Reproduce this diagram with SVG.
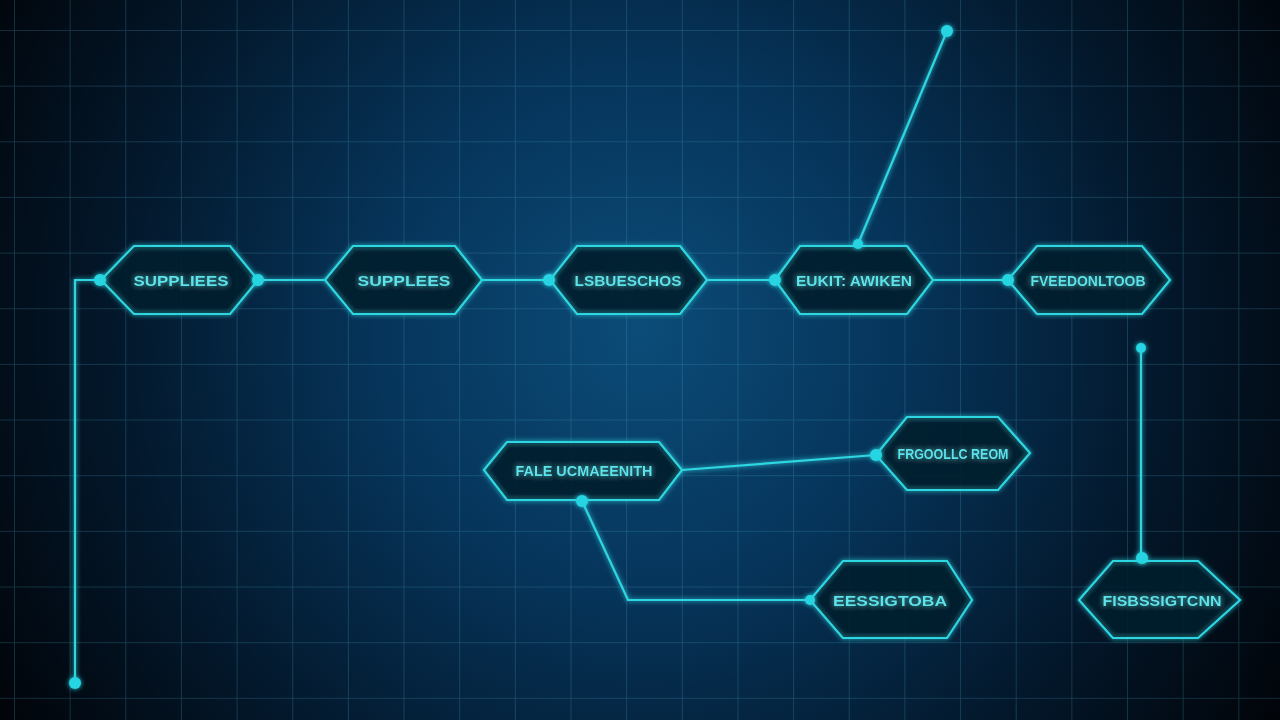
<svg xmlns="http://www.w3.org/2000/svg" width="1280" height="720" viewBox="0 0 1280 720">
  <defs>
    <radialGradient id="bg" cx="640" cy="330" r="760" gradientUnits="userSpaceOnUse">
      <stop offset="0" stop-color="#0b4c78"/>
      <stop offset="0.35" stop-color="#06345a"/>
      <stop offset="0.7" stop-color="#03172a"/>
      <stop offset="1" stop-color="#010307"/>
    </radialGradient>
    <pattern id="grid" x="14" y="30" width="55.65" height="55.65" patternUnits="userSpaceOnUse">
      <path d="M0 0 V55.65 M0 0 H55.65" fill="none" stroke="#4aa6c8" stroke-opacity="0.3" stroke-width="1.6"/>
    </pattern>
    <filter id="glow" x="-20%" y="-20%" width="140%" height="140%">
      <feGaussianBlur stdDeviation="2.5" result="b"/>
      <feMerge><feMergeNode in="b"/><feMergeNode in="SourceGraphic"/></feMerge>
    </filter>
    <style>
      .hex { fill: #041c2e; fill-opacity: 0.7; stroke: #2fd6e2; stroke-width: 2.2; }
      .lbl { fill: #5fe3ea; font-family: "Liberation Sans", Arial, sans-serif; font-size: 15px; font-weight: bold; text-anchor: middle; dominant-baseline: central; }
      .wire { fill: none; stroke: #2fd6e2; stroke-width: 2.2; }
      .dot { fill: #25d4e2; }
    </style>
  </defs>
  <rect width="1280" height="720" fill="url(#bg)"/>
  <rect width="1280" height="720" fill="url(#grid)"/>

  <g id="n1" filter="url(#glow)">
    <polygon class="hex" points="101,280 134,246 230,246 258,280 230,314 134,314"/>
    <text class="lbl" x="181" y="280" textLength="95" lengthAdjust="spacingAndGlyphs">SUPPLIEES</text>
  </g>
  <g id="n2" filter="url(#glow)">
    <polygon class="hex" points="325,280 353,246 455,246 482,280 455,314 353,314"/>
    <text class="lbl" x="404" y="280" textLength="93" lengthAdjust="spacingAndGlyphs">SUPPLEES</text>
  </g>
  <g id="n3" filter="url(#glow)">
    <polygon class="hex" points="550,280 577,246 680,246 707,280 680,314 577,314"/>
    <text class="lbl" x="628" y="280" textLength="107" lengthAdjust="spacingAndGlyphs">LSBUESCHOS</text>
  </g>
  <g id="n4" filter="url(#glow)">
    <polygon class="hex" points="775,280 800,246 907,246 933,280 907,314 800,314"/>
    <text class="lbl" x="854" y="280" textLength="116" lengthAdjust="spacingAndGlyphs">EUKIT: AWIKEN</text>
  </g>
  <g id="n5" filter="url(#glow)">
    <polygon class="hex" points="1008,280 1037,246 1142,246 1170,280 1142,314 1037,314"/>
    <text class="lbl" x="1088" y="280" textLength="115" lengthAdjust="spacingAndGlyphs">FVEEDONLTOOB</text>
  </g>
  <g id="n6" filter="url(#glow)">
    <polygon class="hex" points="484,470 507,442 659,442 682,470 659,500 507,500"/>
    <text class="lbl" x="584" y="470" textLength="137" lengthAdjust="spacingAndGlyphs">FALE UCMAEENITH</text>
  </g>
  <g id="n7" filter="url(#glow)">
    <polygon class="hex" points="876,455 907,417 998,417 1030,453 998,490 907,490"/>
    <text class="lbl" x="953" y="453" textLength="111" lengthAdjust="spacingAndGlyphs">FRGOOLLC REOM</text>
  </g>
  <g id="n8" filter="url(#glow)">
    <polygon class="hex" points="810,600 843,561 947,561 972,600 947,638 843,638"/>
    <text class="lbl" x="890" y="600" textLength="114" lengthAdjust="spacingAndGlyphs">EESSIGTOBA</text>
  </g>
  <g id="n9" filter="url(#glow)">
    <polygon class="hex" points="1079,600 1113,561 1198,561 1240,600 1198,638 1113,638"/>
    <text class="lbl" x="1162" y="600" textLength="119" lengthAdjust="spacingAndGlyphs">FISBSSIGTCNN</text>
  </g>

  <g id="connectors" filter="url(#glow)">
    <polyline class="wire" points="75,683 75,280 100,280"/>
    <line class="wire" x1="258" y1="280" x2="325" y2="280"/>
    <line class="wire" x1="482" y1="280" x2="549" y2="280"/>
    <line class="wire" x1="707" y1="280" x2="775" y2="280"/>
    <line class="wire" x1="858" y1="244" x2="947" y2="31"/>
    <line class="wire" x1="933" y1="280" x2="1008" y2="280"/>
    <line class="wire" x1="1141" y1="348" x2="1141" y2="558"/>
    <line class="wire" x1="682" y1="470" x2="876" y2="455"/>
    <polyline class="wire" points="582,501 628,600 810,600"/>
    <circle class="dot" cx="75" cy="683" r="6"/>
    <circle class="dot" cx="100" cy="280" r="6"/>
    <circle class="dot" cx="258" cy="280" r="6"/>
    <circle class="dot" cx="549" cy="280" r="6"/>
    <circle class="dot" cx="775" cy="280" r="6"/>
    <circle class="dot" cx="858" cy="244" r="5"/>
    <circle class="dot" cx="947" cy="31" r="6"/>
    <circle class="dot" cx="1008" cy="280" r="6"/>
    <circle class="dot" cx="1141" cy="348" r="5"/>
    <circle class="dot" cx="1142" cy="558" r="6"/>
    <circle class="dot" cx="876" cy="455" r="6"/>
    <circle class="dot" cx="582" cy="501" r="6"/>
    <circle class="dot" cx="810" cy="600" r="5"/>
  </g>
</svg>
